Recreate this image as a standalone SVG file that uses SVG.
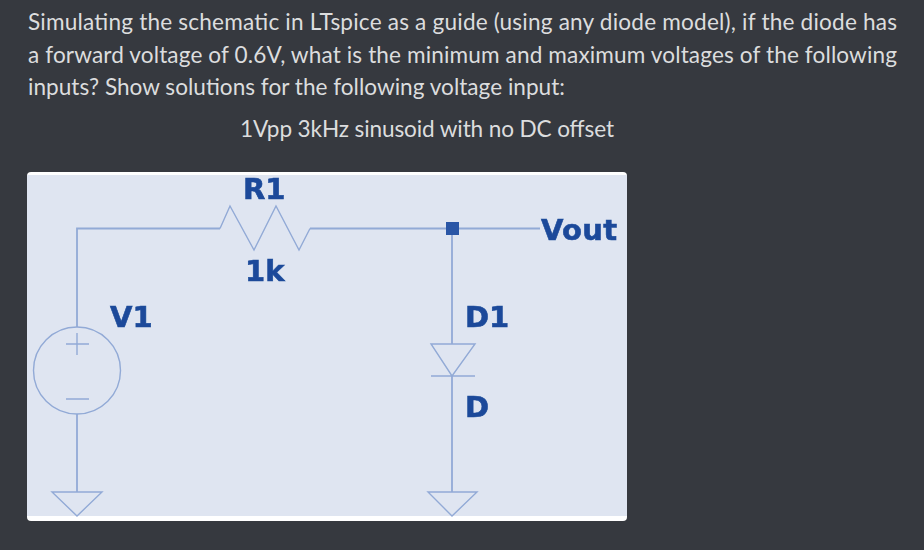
<svg xmlns="http://www.w3.org/2000/svg" width="924" height="550" viewBox="0 0 924 550">
<style>
.q{font-family:"Lato","Noto Sans",sans-serif;font-size:22.6px;fill:#dcddde}
.l{font-family:"DejaVu Sans",sans-serif;font-weight:bold;font-size:29px;fill:#1b4a9a;stroke:#1b4a9a;stroke-width:.6}
.w{fill:none;stroke:#92aad6;stroke-width:1.8}
.s{fill:none;stroke:#92aad6;stroke-width:1.4}
</style>
<defs><filter id="b" x="-10%" y="-10%" width="120%" height="120%"><feGaussianBlur stdDeviation="0.5"/></filter></defs>
<rect width="924" height="550" fill="#36393f"/>
<g id="question">
<text class="q" x="28" y="30" textLength="869">Simulating the schematic in LTspice as a guide (using any diode model), if the diode has</text>
<text class="q" x="28" y="63" textLength="869">a forward voltage of 0.6V, what is the minimum and maximum voltages of the following</text>
<text class="q" x="28" y="95" textLength="537">inputs? Show solutions for the following voltage input:</text>
<text class="q" x="240" y="137" textLength="374">1Vpp 3kHz sinusoid with no DC offset</text>
</g>
<g id="card">
<rect x="27" y="172" width="600" height="349" rx="4" fill="#ffffff"/>
<rect x="27" y="175" width="600" height="341" fill="#dfe5f1"/>
</g>
<g id="connectors" filter="url(#b)">
<path class="w" d="M77 327V228.500H220"/>
<path class="w" d="M310 228.500H540"/>
<path class="w" d="M452 228.500V344"/>
<path class="w" d="M77 414V492"/>
<path class="w" d="M452 376V492"/>
</g>
<g id="V1" filter="url(#b)">
<circle class="s" cx="77" cy="370.500" r="43.500"/>
<path class="s" d="M66 344H89M77 333V355M66 399H89"/>
<text class="l" x="110" y="327">V1</text>
</g>
<g id="R1" filter="url(#b)">
<path class="s" d="M220 228.500L230 206L254 250L276 206L299 250L310 228.500"/>
<text class="l" x="243" y="199">R1</text>
<text class="l" x="245" y="281">1k</text>
</g>
<g id="D1" filter="url(#b)">
<path class="s" d="M431 344H475L452 376ZM431 376H475"/>
<text class="l" x="465" y="327">D1</text>
<text class="l" x="465" y="417">D</text>
</g>
<g id="Vout" filter="url(#b)">
<rect x="446" y="222" width="13" height="13" fill="#2b56a6"/>
<text class="l" x="541" y="240" textLength="76">Vout</text>
</g>
<g id="gnd1" filter="url(#b)"><path class="s" d="M52 492H102L77 516Z"/></g>
<g id="gnd2" filter="url(#b)"><path class="s" d="M428 492H477L452 516Z"/></g>
</svg>
